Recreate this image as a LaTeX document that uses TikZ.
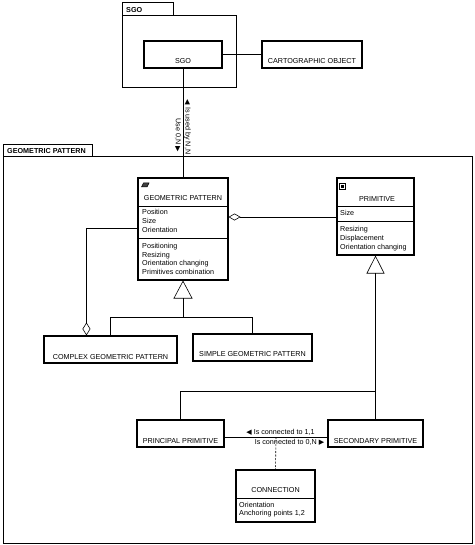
\documentclass[tikz,border=0pt]{standalone}
\usepackage{fontspec}
\setmainfont{Liberation Sans}
\newfontfamily\symfont{DejaVu Sans}
\usetikzlibrary{calc,arrows.meta}
\newcommand{\tril}{{\symfont\fontsize{7}{7}\selectfont ◀}}
\newcommand{\trir}{{\symfont\fontsize{7}{7}\selectfont ▶}}
\begin{document}
\begin{tikzpicture}[x=1pt,y=-1pt,
  font=\fontsize{7.2}{8.7}\selectfont,
  box/.style={draw, line width=1.1pt, inner sep=0pt},
  pkg/.style={draw, line width=1pt, inner sep=0pt},
  conn/.style={draw, line width=0.6pt},
  txt/.style={inner sep=0pt, anchor=base},
  ltxt/.style={inner sep=0pt, anchor=base west},
  divl/.style={line width=1pt}]
\useasboundingbox (0,0) rectangle (474,545);

% ---------- SGO package ----------
\node[pkg, minimum width=51pt, minimum height=13pt] (sgotab) at (147.5,9.5) {};
\node[pkg, minimum width=114pt, minimum height=72pt] (sgobody) at (179,52) {};
\node[ltxt, font=\fontsize{7.2}{8.7}\selectfont\bfseries] (sgotabtxt) at (126,12.6) {SGO};

\node[box, minimum width=78pt, minimum height=27pt] (sgo) at (183,54.5) {};
\node[txt] (sgotxt) at (183,63.6) {SGO};
\node[box, minimum width=100pt, minimum height=27pt] (carto) at (312,54.5) {};
\node[txt] (cartotxt) at (312,63.6) {CARTOGRAPHIC OBJECT};

% ---------- GEOMETRIC PATTERN package ----------
\node[pkg, minimum width=89pt, minimum height=12pt] (gptab) at (47.5,151) {};
\node[pkg, minimum width=469pt, minimum height=386pt] (gpbody) at (237.5,350) {};
\node[ltxt, font=\fontsize{7.2}{8.7}\selectfont\bfseries] (gptabtxt) at (7,153.7) {GEOMETRIC PATTERN};

% GEOMETRIC PATTERN class
\node[box, minimum width=90pt, minimum height=102pt] (gp) at (183,229) {};
\filldraw[line width=0.5pt, fill=black!75] (141.5,187) -- (143.5,183) -- (149,183) -- (147,187) -- cycle;
\node[txt] (gpname) at (183,200.7) {GEOMETRIC PATTERN};
\draw[divl] (138,206) -- (228,206);
\node[ltxt] (gpa1) at (142,214.6) {Position};
\node[ltxt] (gpa2) at (142,223.3) {Size};
\node[ltxt] (gpa3) at (142,232) {Orientation};
\draw[divl] (138,238) -- (228,238);
\node[ltxt] (gpo1) at (142,248.6) {Positioning};
\node[ltxt] (gpo2) at (142,257.2) {Resizing};
\node[ltxt] (gpo3) at (142,265.8) {Orientation changing};
\node[ltxt] (gpo4) at (142,274.4) {Primitives combination};

% PRIMITIVE class
\node[box, minimum width=77pt, minimum height=77pt] (prim) at (375.5,216.5) {};
\draw[line width=0.5pt] (339,183) rectangle (345.5,189.5);
\fill (340.7,184.7) rectangle (343.8,187.8);
\node[txt] (primname) at (377,201.7) {PRIMITIVE};
\draw[divl] (337,206) -- (414,206);
\node[ltxt] (pa1) at (340,215.6) {Size};
\draw[divl] (337,221) -- (414,221);
\node[ltxt] (po1) at (340,231.6) {Resizing};
\node[ltxt] (po2) at (340,240.3) {Displacement};
\node[ltxt] (po3) at (340,249) {Orientation changing};

% sub-patterns
\node[box, minimum width=133pt, minimum height=27pt] (cgp) at (110.5,349.5) {};
\node[txt] (cgptxt) at (110.5,359.6) {COMPLEX GEOMETRIC PATTERN};
\node[box, minimum width=119pt, minimum height=27pt] (sgp) at (252.5,347.5) {};
\node[txt] (sgptxt) at (252.5,356.6) {SIMPLE GEOMETRIC PATTERN};

% primitives
\node[box, minimum width=87pt, minimum height=27pt] (pp) at (180.5,433.5) {};
\node[txt] (pptxt) at (180.5,443.6) {PRINCIPAL PRIMITIVE};
\node[box, minimum width=95pt, minimum height=27pt] (sp) at (375.5,433.5) {};
\node[txt] (sptxt) at (375.5,443.6) {SECONDARY PRIMITIVE};

% CONNECTION class
\node[box, minimum width=79pt, minimum height=52pt] (cn) at (275.5,496) {};
\node[txt] (cnname) at (275.5,492.6) {CONNECTION};
\draw[divl] (236,498) -- (315,498);
\node[ltxt] (cna1) at (239,507.6) {Orientation};
\node[ltxt] (cna2) at (239,515.8) {Anchoring points 1,2};

% ---------- connectors ----------
\draw[conn] (sgo) -- (carto);
\draw[conn] (sgo.south) -- (gp.north);
\node[inner sep=0pt, rotate=-90] (lbl1) at (187.5,127) {\tril\ Is used by N,N};
\node[inner sep=0pt, rotate=-90] (lbl2) at (178,135) {Use 0,N \trir};

% aggregation GP <>-- PRIMITIVE
\coordinate (a1) at ([yshift=12pt]gp.east);
\draw[conn, {Diamond[open, length=12pt, width=7pt, line width=0.6pt]}-] (a1) -- (a1 -| prim.west);

% aggregation GP -- <> COMPLEX
\coordinate (a2) at ([yshift=1pt]gp.west);
\coordinate (c2) at ($(cgp.north west)+(43,0)$);
\draw[conn, -{Diamond[open, length=13pt, width=8pt, line width=0.6pt]}] (a2) -| (c2);

% generalization of GP
\coordinate (g1) at ($(gp.south)+(0,37)$);
\coordinate (c3) at ($(cgp.north west)+(67,0)$);
\draw[conn, -{Triangle[open, length=18pt, width=19pt, line width=0.6pt]}] (g1) -- (gp.south);
\draw[conn] (c3) |- (g1) -| (sgp.north);

% generalization of PRIMITIVE
\coordinate (h1) at ($(prim.south)+(0,136)$);
\draw[conn, -{Triangle[open, length=18pt, width=18pt, line width=0.6pt]}] (pp.north) |- (h1) -- (prim.south);
\draw[conn] (sp.north) -- (h1);

% association PP -- SP
\coordinate (p1) at ([yshift=-3.5pt]pp.east);
\coordinate (s1) at ([yshift=-3.5pt]sp.west);
\coordinate (m1) at ($(p1)!0.5!(s1)$);
\draw[conn] (p1) -- (s1);
\draw[conn, dash pattern=on 2pt off 1.5pt] (m1) -- (cn.north);
\node[inner sep=0pt] (lbl3) at (280.5,432) {\tril\ Is connected to 1,1};
\node[inner sep=0pt] (lbl4) at (289.5,442) {Is connected to 0,N \trir};
\end{tikzpicture}
\end{document}
